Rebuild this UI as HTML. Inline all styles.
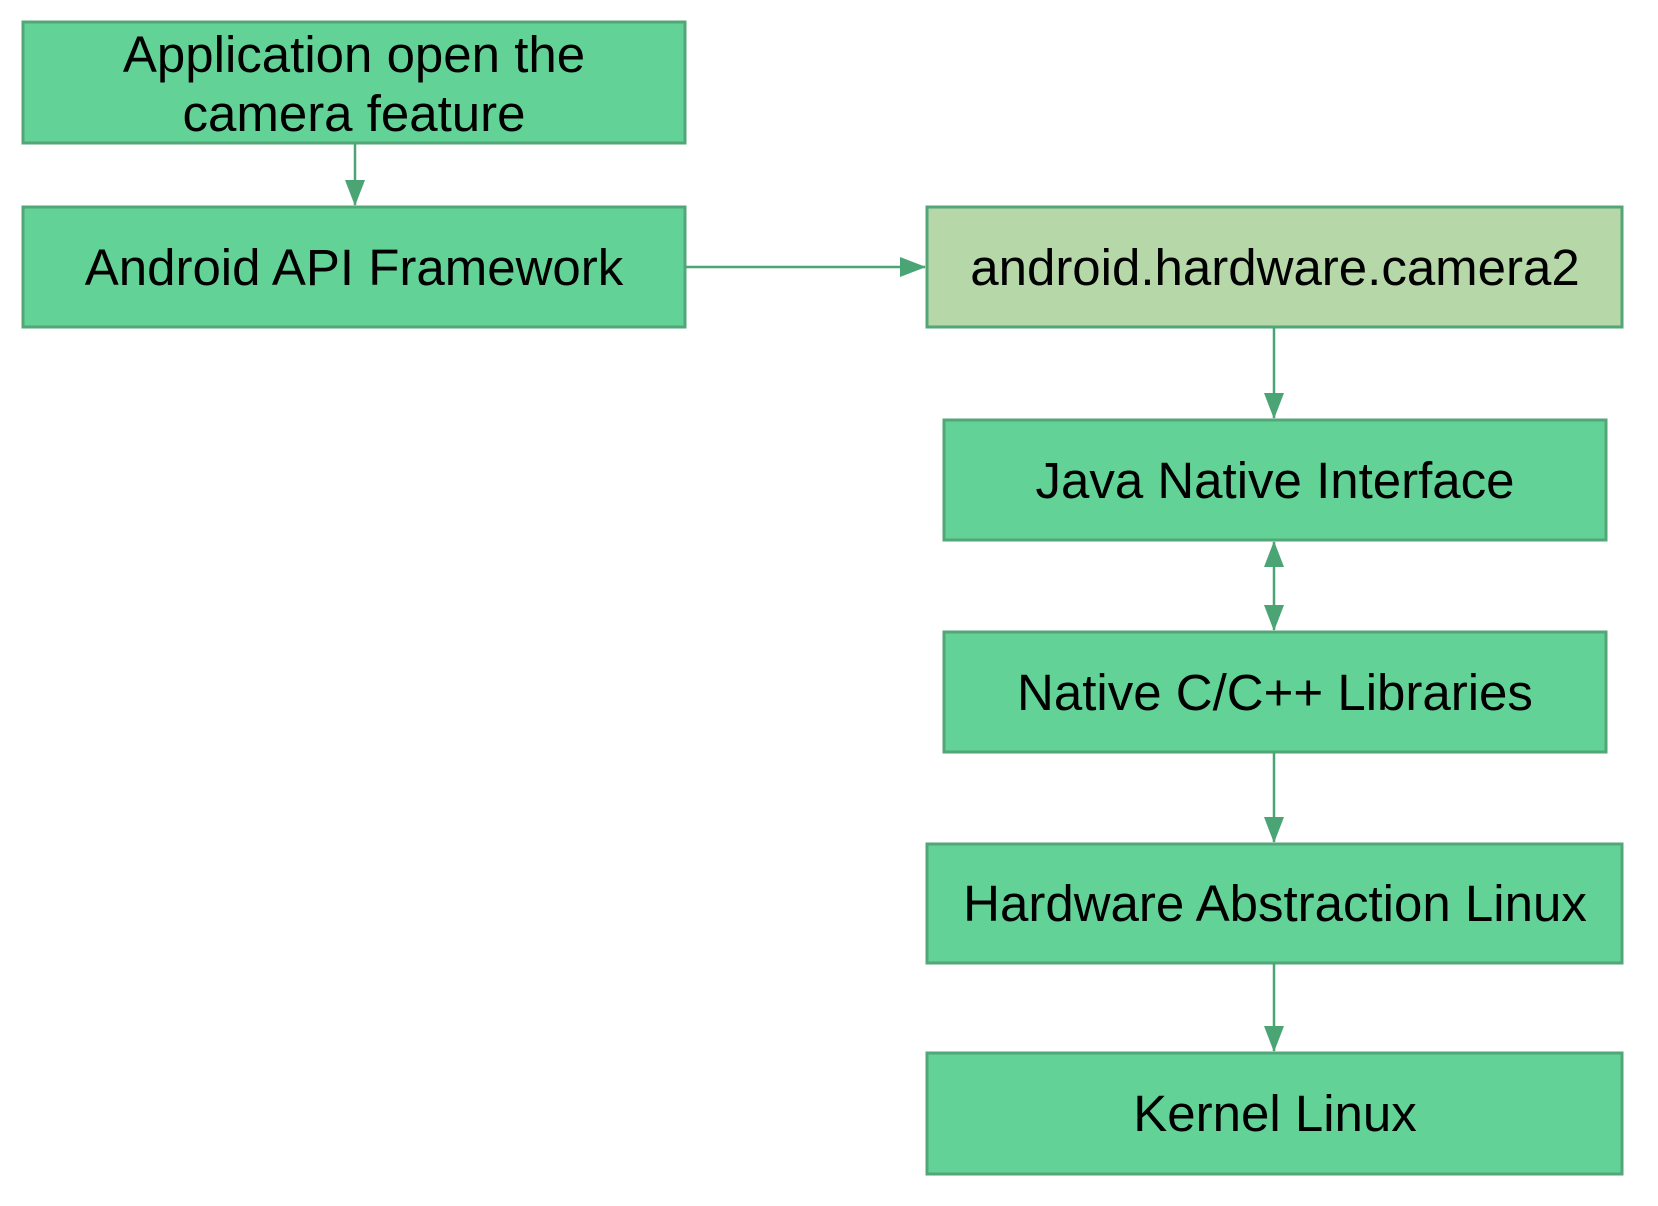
<!DOCTYPE html>
<html><head><meta charset="utf-8"><style>
html,body{margin:0;padding:0;background:#fff;}
svg{display:block;}
text{font-family:"Liberation Sans",Arial,sans-serif;font-size:51px;fill:#000;text-anchor:middle;}
</style></head><body>
<svg width="1658" height="1206" viewBox="0 0 1658 1206" xmlns="http://www.w3.org/2000/svg">
<defs>
<marker id="a" markerWidth="26" markerHeight="20" refX="25" refY="10" orient="auto" markerUnits="userSpaceOnUse">
<path d="M0,0 L26,10 L0,20 Z" fill="#4aa474"/>
</marker>
<marker id="b" markerWidth="26" markerHeight="20" refX="1" refY="10" orient="auto" markerUnits="userSpaceOnUse">
<path d="M26,0 L0,10 L26,20 Z" fill="#4aa474"/>
</marker>
</defs>
<g stroke="#52a677" stroke-width="3" fill="#63d297">
<rect x="23" y="22" width="662" height="121"/>
<rect x="23" y="207" width="662" height="120"/>
<rect x="927" y="207" width="695" height="120" fill="#b6d7a8"/>
<rect x="944" y="420" width="662" height="120"/>
<rect x="944" y="632" width="662" height="120"/>
<rect x="927" y="844" width="695" height="119"/>
<rect x="927" y="1053" width="695" height="121"/>
</g>
<g stroke="#4aa474" stroke-width="2.5" fill="none">
<line x1="355" y1="143" x2="355" y2="205" marker-end="url(#a)"/>
<line x1="686" y1="267" x2="925" y2="267" marker-end="url(#a)"/>
<line x1="1274" y1="327" x2="1274" y2="418" marker-end="url(#a)"/>
<line x1="1274" y1="542" x2="1274" y2="630" marker-start="url(#b)" marker-end="url(#a)"/>
<line x1="1274" y1="752" x2="1274" y2="842" marker-end="url(#a)"/>
<line x1="1274" y1="963" x2="1274" y2="1051" marker-end="url(#a)"/>
</g>
<text x="354" y="72">Application open the</text>
<text x="354" y="131">camera feature</text>
<text x="354" y="285">Android API Framework</text>
<text x="1275" y="285">android.hardware.camera2</text>
<text x="1275" y="498">Java Native Interface</text>
<text x="1275" y="710">Native C/C++ Libraries</text>
<text x="1275" y="921">Hardware Abstraction Linux</text>
<text x="1275" y="1131">Kernel Linux</text>
</svg>
</body></html>
